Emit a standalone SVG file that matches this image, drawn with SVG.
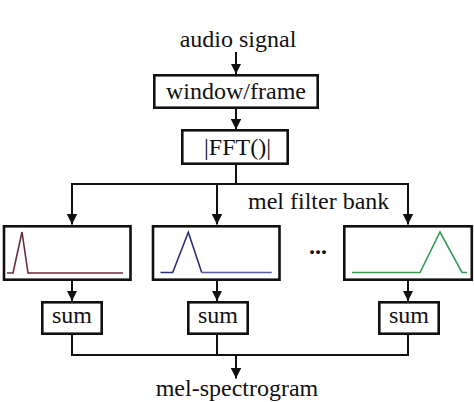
<svg xmlns="http://www.w3.org/2000/svg" width="474" height="402" viewBox="0 0 474 402">
<defs>
<style>
.box{fill:#fff;stroke:#111;stroke-width:2.6}
.ln{fill:none;stroke:#111;stroke-width:2}
.t{font-family:"Liberation Serif","Times New Roman",serif;font-size:24px;fill:#111}
.c{fill:none;stroke-width:1.6;stroke-linejoin:miter}
</style>
<marker id="ah" viewBox="0 0 10 10" refX="10" refY="5" markerWidth="10.5" markerHeight="10.5" markerUnits="userSpaceOnUse" orient="auto">
<path d="M0,0 L10,5 L0,10 Z" fill="#111"/>
</marker>
</defs>
<rect width="474" height="402" fill="#fff"/>
<g id="connectors">
<line class="ln" x1="236" y1="52" x2="236" y2="74" marker-end="url(#ah)"/>
<line class="ln" x1="236" y1="109" x2="236" y2="129.5" marker-end="url(#ah)"/>
<polyline class="ln" points="236,165 236,184"/>
<polyline class="ln" points="72,184 408,184"/>
<line class="ln" x1="72" y1="183" x2="72" y2="224.5" marker-end="url(#ah)"/>
<line class="ln" x1="217" y1="184" x2="217" y2="224.5" marker-end="url(#ah)"/>
<line class="ln" x1="408" y1="183" x2="408" y2="224.5" marker-end="url(#ah)"/>
<line class="ln" x1="72" y1="281" x2="72" y2="301" marker-end="url(#ah)"/>
<line class="ln" x1="217" y1="281" x2="217" y2="301" marker-end="url(#ah)"/>
<line class="ln" x1="408" y1="281" x2="408" y2="301" marker-end="url(#ah)"/>
<polyline class="ln" points="72,335 72,355 408,355 408,335"/>
<line class="ln" x1="217" y1="335" x2="217" y2="355"/>
<line class="ln" x1="236" y1="355" x2="236" y2="378.5" marker-end="url(#ah)"/>
</g>
<g id="audio-signal"><text class="t" x="238" y="47" text-anchor="middle">audio signal</text></g>
<g id="window-frame">
<rect class="box" x="154.3" y="75.3" width="163.4" height="32.4"/>
<text class="t" x="236" y="98.5" text-anchor="middle">window/frame</text>
</g>
<g id="fft">
<rect class="box" x="182.3" y="130.3" width="105.4" height="33.4"/>
<text class="t" x="237.5" y="155" text-anchor="middle">|FFT()|</text>
</g>
<g id="mel-filter-bank-label"><text class="t" x="248" y="209">mel filter bank</text></g>
<g id="filter1">
<rect class="box" x="4" y="226.3" width="126.5" height="53.4"/>
<polyline class="c" stroke="#6a2c38" points="7,273 13,273 22,232 28,273 123,273"/>
</g>
<g id="filter2">
<rect class="box" x="153" y="226.3" width="126.5" height="53.4"/>
<polyline class="c" stroke="#2c2c7c" points="160.5,272.5 172.7,272.5 188.3,232.3 201.7,272.5"/>
<polyline class="c" stroke="#5a5aa8" points="201.7,272.5 271.7,272.5"/>
</g>
<g id="ellipsis"><text class="t" x="309" y="253.5" font-weight="bold">...</text></g>
<g id="filter3">
<rect class="box" x="344.3" y="226.3" width="127.5" height="53.4"/>
<polyline class="c" stroke="#2e9e4e" points="352,272.5 420,272.5 440,232 462,272.5 467,272.5"/>
</g>
<g id="sum1">
<rect class="box" x="42.3" y="302.3" width="59.4" height="31.4"/>
<text class="t" x="72" y="322.5" text-anchor="middle">sum</text>
</g>
<g id="sum2">
<rect class="box" x="188.3" y="302.3" width="59.4" height="31.4"/>
<text class="t" x="218" y="322.5" text-anchor="middle">sum</text>
</g>
<g id="sum3">
<rect class="box" x="379.3" y="302.3" width="59.4" height="31.4"/>
<text class="t" x="409" y="322.5" text-anchor="middle">sum</text>
</g>
<g id="mel-spectrogram"><text class="t" x="237" y="395.5" text-anchor="middle">mel-spectrogram</text></g>
</svg>
